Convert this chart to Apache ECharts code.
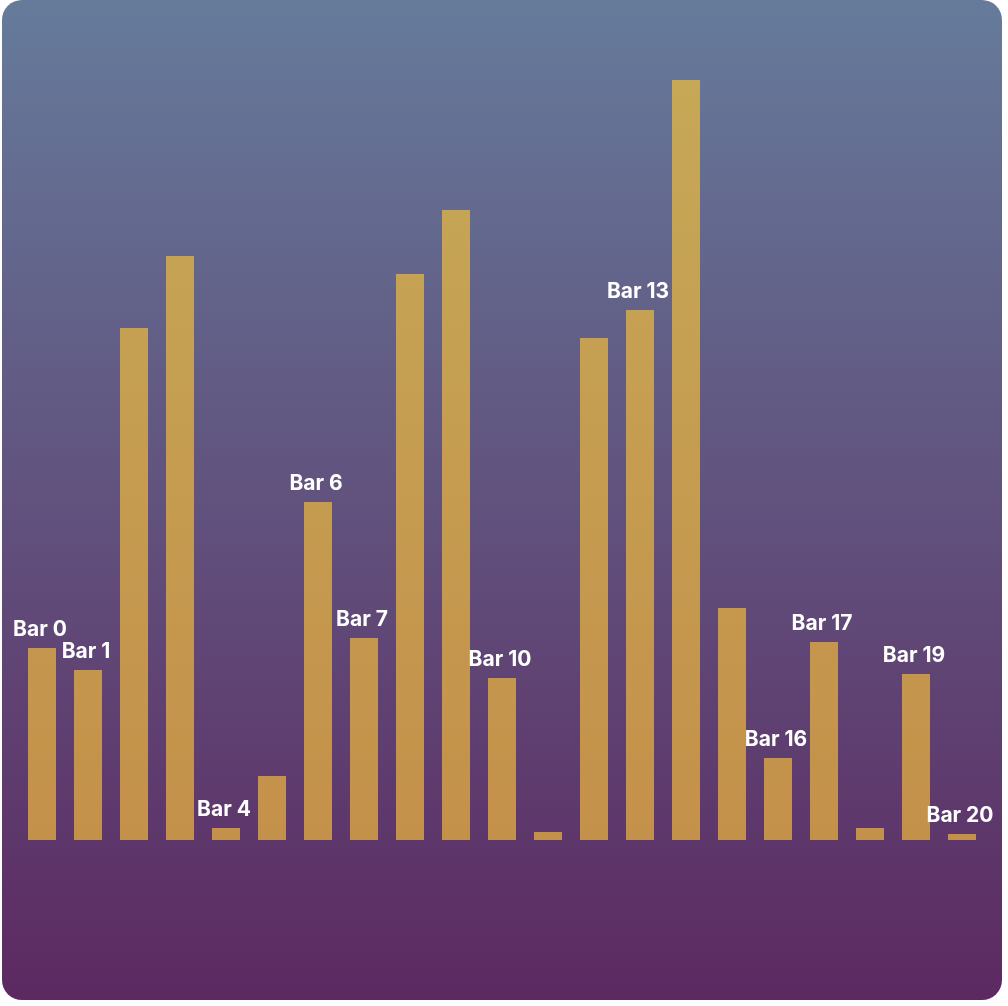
<!DOCTYPE html>
<html>
<head>
<meta charset="utf-8">
<style>
html,body{margin:0;padding:0;background:#ffffff;}
#chart{width:1008px;height:1006px;}
</style>
<script src="https://cdn.jsdelivr.net/npm/echarts@6/dist/echarts.min.js"></script>
</head>
<body>
<div id="chart"></div>
<script>
var categories = ['Bar 0','Bar 1','Bar 2','Bar 3','Bar 4','Bar 5','Bar 6','Bar 7','Bar 8','Bar 9','Bar 10','Bar 11','Bar 12','Bar 13','Bar 14','Bar 15','Bar 16','Bar 17','Bar 18','Bar 19','Bar 20'];
var values = [24, 21.25, 64, 73, 1.5, 8, 42.25, 25.25, 70.75, 78.75, 20.25, 1, 62.75, 66.25, 95, 29, 10.25, 24.75, 1.5, 20.75, 0.75];
var labeledBars = [0, 1, 4, 6, 7, 10, 13, 16, 17, 19, 20];

var chart = echarts.init(document.getElementById('chart'), null, {renderer: 'canvas'});
var data = values.map(function (v, i) {
  return {
    value: v,
    label: { show: labeledBars.indexOf(i) >= 0 }
  };
});
chart.setOption({
  animation: false,
  graphic: [{
    type: 'rect',
    z: -10,
    silent: true,
    shape: { x: 2, y: 0, width: 1000, height: 1000, r: 20 },
    style: {
      fill: new echarts.graphic.LinearGradient(0, 0, 0, 1, [
        { offset: 0, color: '#667b9b' },
        { offset: 1, color: '#5c2961' }
      ])
    }
  }],
  grid: { left: 19, right: 23, top: 40, bottom: 166, containLabel: false },
  xAxis: {
    type: 'category',
    data: categories,
    axisLine: { show: false },
    axisTick: { show: false },
    axisLabel: { show: false },
    splitLine: { show: false }
  },
  yAxis: {
    type: 'value',
    min: 0,
    max: 100,
    axisLine: { show: false },
    axisTick: { show: false },
    axisLabel: { show: false },
    splitLine: { show: false }
  },
  series: [{
    type: 'bar',
    data: data,
    barWidth: 28,
    itemStyle: {
      color: new echarts.graphic.LinearGradient(0, 80, 0, 840, [
        { offset: 0, color: '#c6a857' },
        { offset: 1, color: '#c4914a' }
      ], true)
    },
    label: {
      position: 'top',
      distance: 8,
      offset: [-2, 0],
      formatter: function (p) { return p.name; },
      color: '#ffffff',
      fontFamily: 'Inter',
      fontWeight: 'bold',
      fontSize: 21
    }
  }]
});
</script>
</body>
</html>
